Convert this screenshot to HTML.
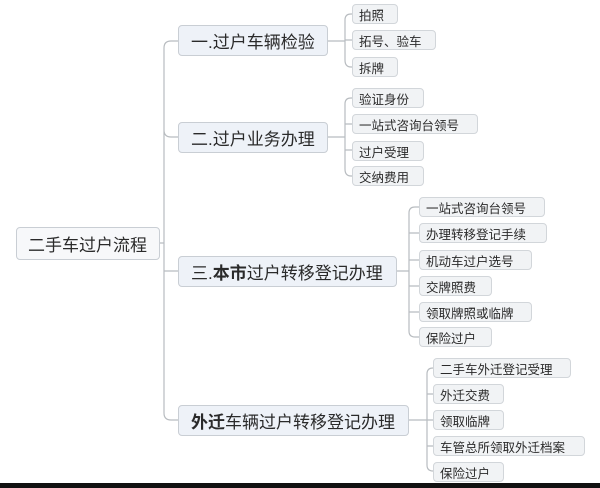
<!DOCTYPE html>
<html><head><meta charset="utf-8"><style>
body{margin:0;width:600px;height:488px;background:#fff;position:relative;overflow:hidden;font-family:"Liberation Sans","Noto Sans CJK SC",sans-serif;color:#2a2a2a}
.b{position:absolute;box-sizing:border-box;border:1px solid #c9ced4;border-radius:4px;background:#eef2f8;display:flex;align-items:center;white-space:nowrap}
.m{font-size:17px;padding-left:12px}
.l{font-size:12.5px;padding-left:6px;background:#f1f3f5;border-color:#d2d6da}
svg{position:absolute;left:0;top:0}
</style></head><body>
<svg width="600" height="488" fill="none" stroke="#b8bcc0" stroke-width="1.2">
<path d="M160 243H164M164 48Q164 41 171 41H178M164 130Q164 137 171 137H178M164 48V413Q164 420 171 420H178M164 271H178"/>
<path d="M328 41H345M345 20Q345 14 351 14H352M345 20V60Q345 67 351 67H352M345 40H352"/>
<path d="M328 137H345M345 104Q345 98 351 98H352M345 104V169Q345 176 351 176H352M345 124H352M345 150H352"/>
<path d="M397 271H409M409 213Q409 207 415 207H419M409 213V331Q409 337 415 337H419M409 233H419M409 260H419M409 286H419M409 312H419"/>
<path d="M409 420H427M427 374Q427 368 433 368H433M427 374V465Q427 471 433 471M427 394H433M427 420H433M427 446H433"/>
</svg>
<div class="b" style="left:16px;top:227px;width:144px;height:33px;font-size:17px;padding-left:11px;background:#f7f8fa">二手车过户流程</div>
<div class="b m" style="left:178px;top:25px;width:150px;height:31px">一.过户车辆检验</div>
<div class="b m" style="left:178px;top:122px;width:150px;height:31px">二.过户业务办理</div>
<div class="b m" style="left:178px;top:256px;width:219px;height:31px">三.<b>本市</b>过户转移登记办理</div>
<div class="b m" style="left:178px;top:405px;width:231px;height:31px"><b>外迁</b>车辆过户转移登记办理</div>
<div class="b l" style="left:352px;top:4px;width:46px;height:20px">拍照</div>
<div class="b l" style="left:352px;top:30px;width:84px;height:20px">拓号、验车</div>
<div class="b l" style="left:352px;top:57px;width:46px;height:20px">拆牌</div>
<div class="b l" style="left:352px;top:88px;width:72px;height:20px">验证身份</div>
<div class="b l" style="left:352px;top:114px;width:126px;height:20px">一站式咨询台领号</div>
<div class="b l" style="left:352px;top:141px;width:72px;height:20px">过户受理</div>
<div class="b l" style="left:352px;top:166px;width:72px;height:20px">交纳费用</div>
<div class="b l" style="left:419px;top:197px;width:126px;height:20px">一站式咨询台领号</div>
<div class="b l" style="left:419px;top:223px;width:128px;height:20px">办理转移登记手续</div>
<div class="b l" style="left:419px;top:250px;width:113px;height:20px">机动车过户选号</div>
<div class="b l" style="left:419px;top:276px;width:73px;height:20px">交牌照费</div>
<div class="b l" style="left:419px;top:302px;width:113px;height:20px">领取牌照或临牌</div>
<div class="b l" style="left:419px;top:327px;width:73px;height:20px">保险过户</div>
<div class="b l" style="left:433px;top:358px;width:138px;height:20px">二手车外迁登记受理</div>
<div class="b l" style="left:433px;top:384px;width:71px;height:20px">外迁交费</div>
<div class="b l" style="left:433px;top:410px;width:71px;height:20px">领取临牌</div>
<div class="b l" style="left:433px;top:436px;width:152px;height:20px">车管总所领取外迁档案</div>
<div class="b l" style="left:433px;top:462px;width:71px;height:20px">保险过户</div>
<div style="position:absolute;left:0;top:483px;width:600px;height:5px;background:#111"></div>
</body></html>
